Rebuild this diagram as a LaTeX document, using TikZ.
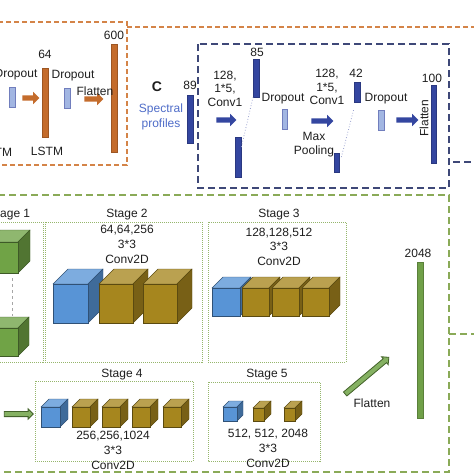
\documentclass[tikz,border=0pt]{standalone}
\usepackage{fontspec}
\setmainfont{Liberation Sans}
\usepackage{xcolor}
\usetikzlibrary{shapes,shapes.arrows,arrows,positioning,calc}

\definecolor{txtgray}{RGB}{30,30,30}
\definecolor{lstmorange}{RGB}{196,108,44}
\definecolor{orangeline}{RGB}{212,132,72}
\definecolor{navy}{RGB}{52,70,160}
\definecolor{navyline}{RGB}{62,72,120}
\definecolor{paleblue}{RGB}{162,182,226}
\definecolor{specblue}{RGB}{78,108,200}
\definecolor{greenline}{RGB}{138,170,88}
\definecolor{greendot}{RGB}{150,182,108}
\definecolor{cubegreen}{RGB}{112,163,70}
\definecolor{cubeblue}{RGB}{88,148,214}
\definecolor{cubegold}{RGB}{166,134,30}
\definecolor{gbar}{RGB}{112,160,72}

% front face, top face, side face of one block
\newcommand{\blockcube}[6]{%
  \filldraw[draw=#6!55!black, fill=#6!78!white] (#1,#2) -- ++(#5,-#5) -- ++(#3,0) -- ++(-#5,#5) -- cycle;
  \filldraw[draw=#6!55!black, fill=#6!72!black] (#1+#3,#2) -- ++(#5,-#5) -- ++(0,#4) -- ++(-#5,#5) -- cycle;
  \filldraw[draw=#6!55!black, fill=#6] (#1,#2) rectangle ++(#3,#4);
}

\begin{document}
\begin{tikzpicture}[x=1pt, y=-1pt, font=\fontsize{12}{13.5}\selectfont, text=txtgray,
    lbl/.style={inner sep=0pt, text height=8.6pt, text depth=0pt},
    ml/.style={inner sep=0pt, align=center},
    bar/.style={draw=#1!80!black, fill=#1, anchor=north west, inner sep=0pt, minimum width=6pt},
    smallbox/.style={draw=navy!70, fill=paleblue, anchor=north west, inner sep=0pt, minimum width=6pt, minimum height=20pt},
    oarrow/.style={single arrow, fill=lstmorange, inner xsep=0pt, inner ysep=2.5pt, single arrow head extend=3.5pt},
    barrow/.style={single arrow, fill=navy, inner xsep=0pt, inner ysep=2.5pt, single arrow head extend=3.5pt},
    garrow/.style={single arrow, draw=cubegreen!60!black, fill=cubegreen!85!white, line width=0.8pt, inner xsep=0pt, inner ysep=2.2pt, single arrow head extend=2.6pt},
    orangedash/.style={orangeline, line width=1.2pt, dash pattern=on 5pt off 3pt},
    navydash/.style={navyline, line width=1.3pt, dash pattern=on 7pt off 4pt},
    greendash/.style={greenline, line width=1.3pt, dash pattern=on 7pt off 4pt},
    stagebox/.style={greendot, line width=1pt, dash pattern=on 1pt off 1pt},
    pooldot/.style={navy!50, dotted, thick}]
    \path[use as bounding box] (0,0) rectangle (474,474);
    \clip (0,0) rectangle (474,474);

    % Branch outlines
    \draw[orangedash] (-2,22) -- (127,22) -- (127,165) -- (-2,165);
    \draw[orangedash] (127,27) -- (476,27);
    \draw[navydash] (198,44) rectangle (449,188);
    \draw[navydash] (453,162) -- (476,162);
    \draw[greendash] (-2,195) -- (449,195) -- (449,472) -- (-2,472);
    \draw[greendash] (449,334) -- (476,334);

    % LSTM branch
    \node[lbl] (dropL) at (16,73) {Dropout};
    \node[smallbox] (dropLbox) at (9,87) {};
    \node[oarrow, minimum height=17pt] (arrL) at (29.5,98) {};
    \node[lbl] (lstmL) at (-4,152) {LSTM};
    \node[bar=lstmorange, minimum height=69pt] (lstm64) at (42,68) {};
    \node[lbl] (n64) at (45,54) {64};
    \node[lbl] (lstmR) at (47,151) {LSTM};
    \node[lbl] (dropR) at (73,74) {Dropout};
    \node[smallbox] (dropRbox) at (64,88) {};
    \node[oarrow, minimum height=19pt] (arrR) at (92.5,99) {};
    \node[bar=lstmorange, minimum height=108pt] (lstm600) at (111,44) {};
    \node[lbl] (flatL) at (95,91) {Flatten};
    \node[lbl] (n600) at (114,35) {600};

    % Spectral profiles branch
    \node[lbl, font=\fontsize{14}{14}\selectfont\bfseries] (lblC) at (157,87) {C};
    \node[ml, text=specblue, font=\fontsize{12}{15}\selectfont] (spec) at (161,116.5) {Spectral\\profiles};
    \node[bar=navy, minimum height=48pt] (in89) at (187,95) {};
    \node[lbl] (n89) at (190,85) {89};
    \node[ml] (conv1txt) at (225,88.5) {128,\\1*5,\\Conv1};
    \node[barrow, minimum height=20pt] (arrC1) at (225,120) {};
    \node[bar=navy, minimum height=38pt] (c85) at (253,59) {};
    \node[lbl] (n85) at (257,52) {85};
    \node[bar=navy, minimum height=40pt] (c85b) at (235,137) {};
    \draw[pooldot] ($(c85b.north east)+(0,10)$) -- (c85.south west);
    \node[lbl] (drop1) at (283,97) {Dropout};
    \node[smallbox, minimum width=5pt] (drop1box) at (282,109) {};
    \node[ml] (conv2txt) at (327,87) {128,\\1*5,\\Conv1};
    \node[barrow, minimum height=22pt] (arrC2) at (321,121) {};
    \node[ml] (pooltxt) at (314,144.5) {Max\\Pooling};
    \node[bar=navy, minimum height=19pt, minimum width=5pt] (pool) at (334,153) {};
    \node[bar=navy, minimum height=20pt] (c42) at (354,82) {};
    \node[lbl] (n42) at (356,73) {42};
    \draw[pooldot] ($(pool.north east)+(2,4)$) -- ($(c42.south west)+(0,6)$);
    \node[lbl] (drop2) at (386,97) {Dropout};
    \node[smallbox] (drop2box) at (378,110) {};
    \node[barrow, minimum height=22pt] (arrC3) at (406,120) {};
    \node[lbl, rotate=90] (flat2) at (424,118) {Flatten};
    \node[bar=navy, minimum height=78pt, minimum width=5pt] (c100) at (431,85) {};
    \node[lbl] (n100) at (432,78) {100};

    % Stage 1
    \draw[stagebox] (-10,222) rectangle (43,362);
    \node[lbl] (st1) at (9.5,213) {Stage 1};
    \blockcube{-12}{242}{30}{31}{12}{cubegreen}
    \draw[gray!70, dashed, thick] (12,278) -- (12,316);
    \blockcube{-12}{328}{30}{28}{11}{cubegreen}

    % Stage 2
    \draw[stagebox] (45,222) rectangle (202,362);
    \node[lbl] (st2) at (127,213) {Stage 2};
    \node[ml, font=\fontsize{12}{15}\selectfont] (st2txt) at (127,244) {64,64,256\\3*3\\Conv2D};
    \blockcube{53}{284}{35}{39}{15}{cubeblue}
    \blockcube{99}{284}{34}{39}{15}{cubegold}
    \blockcube{143}{284}{34}{39}{15}{cubegold}

    % Stage 3
    \draw[stagebox] (208,222) rectangle (346,362);
    \node[lbl] (st3) at (279,213) {Stage 3};
    \node[ml, font=\fontsize{12}{14.5}\selectfont] (st3txt) at (279,246.5) {128,128,512\\3*3\\Conv2D};
    \blockcube{212}{288}{28}{28}{11}{cubeblue}
    \foreach \cx in {242,272,302} {
        \blockcube{\cx}{288}{27}{28}{11}{cubegold}
    }

    % Stage 4
    \node[garrow, minimum height=29pt] (arrS4) at (17.5,414) {};
    \draw[stagebox] (35,381) rectangle (193,461);
    \node[lbl] (st4) at (122,373) {Stage 4};
    \blockcube{41}{407}{19}{20}{8}{cubeblue}
    \foreach \cx in {72,102,132,163} {
        \blockcube{\cx}{407}{18}{20}{8}{cubegold}
    }
    \node[ml, font=\fontsize{12}{15}\selectfont] (st4txt) at (113,450) {256,256,1024\\3*3\\Conv2D};

    % Stage 5
    \draw[stagebox] (208,382) rectangle (320,461);
    \node[lbl] (st5) at (267,373) {Stage 5};
    \blockcube{223}{407}{14}{14}{6}{cubeblue}
    \blockcube{253}{408}{11}{13}{7}{cubegold}
    \blockcube{284}{408}{11}{13}{7}{cubegold}
    \node[ml, font=\fontsize{12}{15}\selectfont] (st5txt) at (268,448) {512, 512, 2048\\3*3\\Conv2D};

    % Flatten to 2048
    \node[garrow, minimum height=57pt, rotate=40] (arrFl) at (366,376.5) {};
    \node[lbl] (flat3) at (372,403) {Flatten};
    \node[bar=gbar, minimum height=156pt] (g2048) at (417,262) {};
    \node[lbl] (n2048) at (418,253) {2048};
\end{tikzpicture}
\end{document}
